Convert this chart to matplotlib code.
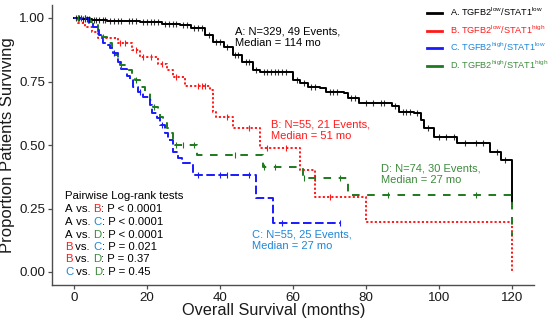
import numpy as np
import matplotlib
matplotlib.use("Agg")
import matplotlib.pyplot as plt
from matplotlib.lines import Line2D

plt.rcParams['font.family'] = ['Liberation Sans', 'DejaVu Sans']
plt.rcParams['mathtext.fontset'] = 'custom'
plt.rcParams['mathtext.rm'] = 'Liberation Sans'
plt.rcParams['mathtext.it'] = 'Liberation Sans'

# ---------------- data ----------------
A_times = [0, 2, 5, 9, 14, 18, 24, 29, 32, 36, 38, 41, 43.5, 46, 49, 51, 60, 62, 64,
           67.5, 69, 74, 75, 78, 87, 89, 93, 95, 96, 98.5, 105, 114, 117, 120]
A_surv = [1.0, 0.997, 0.994, 0.99, 0.987, 0.983, 0.978, 0.972, 0.96, 0.933, 0.906, 0.886,
          0.854, 0.827, 0.795, 0.787, 0.756, 0.744, 0.728, 0.724, 0.709, 0.705, 0.685,
          0.665, 0.654, 0.630, 0.626, 0.598, 0.567, 0.531, 0.508, 0.472, 0.441, 0.27]
A_end = 120
A_cens = [0.5, 1, 1.5, 2.5, 3, 3.5, 4, 5.5, 6, 7, 8, 8.5, 10, 11, 12, 13, 15, 16, 17, 19,
          20, 21, 22, 23, 25, 26, 27, 28, 30, 31, 33, 34, 35, 37, 39, 40, 42, 44, 45, 47,
          48, 50, 52, 53, 54, 55, 56, 57, 58, 61, 63, 65, 66, 70, 71, 72, 76, 77, 80, 82,
          84, 85, 88, 90, 91, 92, 94, 97, 100, 102, 104, 107, 110, 112, 116, 118]

B_times = [0, 1, 3, 5, 6.5, 12, 16, 18, 23, 25.5, 27, 30.4, 37.3, 38, 39, 43.6, 51, 62,
           66, 80, 120]
B_surv = [1.0, 0.982, 0.964, 0.945, 0.921, 0.90, 0.874, 0.846, 0.82, 0.795, 0.768, 0.732,
          0.717, 0.63, 0.61, 0.567, 0.49, 0.40, 0.295, 0.197, 0.0]
B_end = 120
B_cens = [12.5, 14, 17, 19, 21, 24, 28, 34, 35, 36, 42, 48, 53, 58, 70]

C_times = [0, 4, 5.2, 6.3, 7, 8, 9, 10, 10.7, 12, 13, 14.5, 15.3, 16.2, 17.5, 19, 20.8,
           21.4, 22.7, 23.6, 25, 25.8, 27, 28.5, 29.6, 32.6, 50, 54.5]
C_surv = [1.0, 0.982, 0.964, 0.952, 0.933, 0.90, 0.894, 0.88, 0.862, 0.827, 0.80, 0.77,
          0.756, 0.73, 0.71, 0.69, 0.657, 0.626, 0.606, 0.579, 0.547, 0.52, 0.472, 0.449,
          0.43, 0.382, 0.29, 0.193]
C_end = 73
C_cens = [2, 3, 11, 18, 24, 34, 40, 42, 48, 57, 73]

D_times = [0, 4.4, 5.8, 6.6, 7.7, 9, 10.4, 11.2, 12, 12.6, 14.5, 15.9, 16.7, 18, 19.5,
           20.8, 21.6, 23, 23.6, 24.4, 25.5, 26.3, 27.1, 27.7, 33.7, 51.8, 62.7, 75, 120]
D_surv = [1.0, 0.986, 0.973, 0.945, 0.925, 0.90, 0.874, 0.854, 0.835, 0.815, 0.795, 0.776,
          0.756, 0.728, 0.705, 0.677, 0.65, 0.626, 0.61, 0.587, 0.567, 0.547, 0.52, 0.50,
          0.46, 0.413, 0.37, 0.303, 0.14]
D_end = 120
D_cens = [1, 3, 8, 13, 17, 22, 28, 30, 33, 44, 52, 55, 63, 66, 73, 86, 110]

x_ticks = [0, 20, 40, 60, 80, 100, 120]
y_ticks = [0.0, 0.25, 0.5, 0.75, 1.0]
y_ticklabels = ["0.00", "0.25", "0.50", "0.75", "1.00"]

legend_labels = [r"A. TGFB2$^{\mathrm{low}}$/STAT1$^{\mathrm{low}}$",
                 r"B. TGFB2$^{\mathrm{low}}$/STAT1$^{\mathrm{high}}$",
                 r"C. TGFB2$^{\mathrm{high}}$/STAT1$^{\mathrm{low}}$",
                 r"D. TGFB2$^{\mathrm{high}}$/STAT1$^{\mathrm{high}}$"]

# ---------------- style ----------------
col_line = {'A': '#000000', 'B': '#FF1A1A', 'C': '#1A1AFF', 'D': '#1E7A1E'}
col_text = {'A': '#000000', 'B': '#FF1A1A', 'C': '#1C86D9', 'D': '#3D8B3D'}
ls = {'A': '-', 'B': (0, (1.1, 1.1)), 'C': (0, (4.4, 1.8)), 'D': (0, (3.9, 3.9))}

W, H = 550, 321
fig = plt.figure(figsize=(5.5, 3.21), dpi=100)
ax = fig.add_axes([52 / W, 1 - 284.7 / H, (534 - 52) / W, (284.7 - 5.3) / H])

series = {'A': (A_times, A_surv, A_end, A_cens),
          'B': (B_times, B_surv, B_end, B_cens),
          'C': (C_times, C_surv, C_end, C_cens),
          'D': (D_times, D_surv, D_end, D_cens)}

for key in ['A', 'B', 'D', 'C']:
    t, s, end, cens = series[key]
    xs = list(t) + [end]
    ys = list(s) + [s[-1]]
    ax.step(xs, ys, where='post', color=col_line[key], lw=1.4, linestyle=ls[key], zorder=3)
    ta = np.array(t)
    idx = np.searchsorted(ta, np.array(cens), side='right') - 1
    cy = np.array(s)[idx]
    ax.plot(cens, cy, linestyle='none', marker='|', markersize=4.5, mew=0.8,
            color=col_line[key], alpha=0.8 if key == 'A' else 1.0, zorder=4)

ax.set_xlim(-6, 126)
ax.set_ylim(-0.05, 1.05)
ax.set_xticks(x_ticks)
ax.set_yticks(y_ticks)
ax.set_yticklabels(y_ticklabels)
for sp in ['top', 'right']:
    ax.spines[sp].set_visible(False)
for sp in ['left', 'bottom']:
    ax.spines[sp].set_color('#4d4d4d')
    ax.spines[sp].set_linewidth(1.0)
ax.tick_params(axis='both', colors='#4d4d4d', labelcolor='#1a1a1a', labelsize=9.6,
               length=3, width=0.9, pad=2)
ax.set_xlabel("Overall Survival (months)", fontsize=11.7, color='#1a1a1a')
ax.xaxis.set_label_coords(274 / W, 1 - 310 / H, transform=fig.transFigure)
ax.xaxis.label.set_va('center')
ax.set_ylabel("Proportion Patients Surviving", fontsize=12, color='#1a1a1a', labelpad=3)

# ---------------- legend ----------------
handles = [Line2D([], [], color=col_line[k], lw=2.0) for k in ['A', 'B', 'C', 'D']]
leg = ax.legend(handles, legend_labels, loc='upper left',
                bbox_to_anchor=(427 / W, 1 - 6 / H), bbox_transform=fig.transFigure,
                frameon=False, fontsize=6.6, handlelength=1.6, handletextpad=0.9,
                labelspacing=0.55, borderaxespad=0, borderpad=0)
for txt, k in zip(leg.get_texts(), ['A', 'B', 'C', 'D']):
    txt.set_color(col_text[k])

# ---------------- annotations ----------------
fs = 8.0
def ftext(x, y, s, color):
    return fig.text(x / W, 1 - y / H, s, color=color, fontsize=fs, ha='left', va='center',
                    linespacing=1.15)

ftext(235, 37.5, "A: N=329, 49 Events,\nMedian = 114 mo", col_text['A'])
ftext(271, 130.5, "B: N=55, 21 Events,\nMedian = 51 mo", col_text['B'])
ftext(381, 174, "D: N=74, 30 Events,\nMedian = 27 mo", col_text['D'])
ftext(252, 240, "C: N=55, 25 Events,\nMedian = 27 mo", col_text['C'])

# pairwise tests (multi-coloured)
pair_rows = [
    [("Pairwise Log-rank tests", 'A')],
    [("A", 'A'), (" vs. ", 'A'), ("B", 'B'), (": P < 0.0001", 'A')],
    [("A", 'A'), (" vs. ", 'A'), ("C", 'C'), (": P < 0.0001", 'A')],
    [("A", 'A'), (" vs. ", 'A'), ("D", 'D'), (": P < 0.0001", 'A')],
    [("B", 'B'), (" vs. ", 'A'), ("C", 'C'), (": P = 0.021", 'A')],
    [("B", 'B'), (" vs. ", 'A'), ("D", 'D'), (": P = 0.37", 'A')],
    [("C", 'C'), (" vs. ", 'A'), ("D", 'D'), (": P = 0.45", 'A')],
]
pair_y = [196, 209, 222, 234.5, 247, 259.5, 272]
for row, yy in zip(pair_rows, pair_y):
    first = fig.text(65 / W, 1 - yy / H, row[0][0], color=col_text[row[0][1]], fontsize=8.2,
                     ha='left', va='center')
    prev = first
    for piece, k in row[1:]:
        prev = ax.annotate(piece, xy=(1, 0), xycoords=prev, va='bottom', ha='left',
                           color=col_text[k], fontsize=8.2, annotation_clip=False)

fig.savefig("out.png", dpi=100)
